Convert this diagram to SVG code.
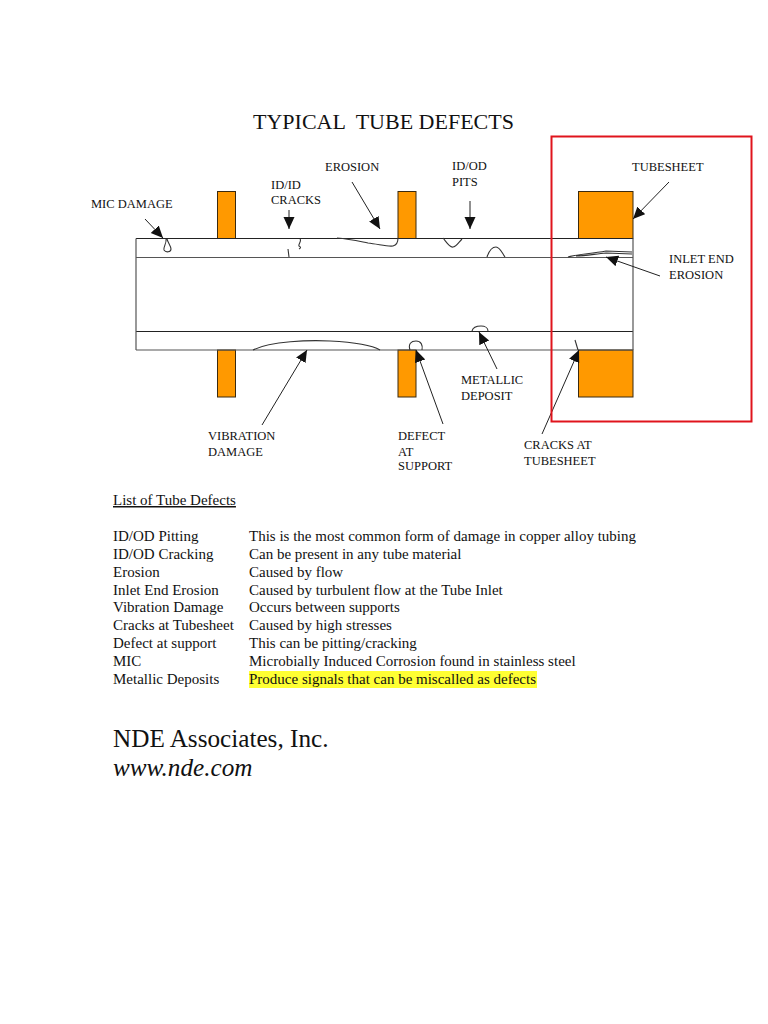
<svg xmlns="http://www.w3.org/2000/svg" width="768" height="1024" viewBox="0 0 768 1024">
<style>
text{font-family:"Liberation Serif","Times New Roman",serif;fill:#111}
.l{font-size:12.5px}
.b{font-size:15px}
.s{fill:#f90;stroke:#3a2a10;stroke-width:1}
.t{fill:none;stroke:#222;stroke-width:1}
.g{fill:none;stroke:#555;stroke-width:1.2}
.d{fill:none;stroke:#333;stroke-width:1.1}
.a{stroke:#222;stroke-width:1;marker-end:url(#ah)}
</style>
<defs><marker id="ah" markerUnits="userSpaceOnUse" markerWidth="13" markerHeight="12" refX="12" refY="5.500" orient="auto"><path d="M0 0L12 5.500L0 11z" fill="#111"/></marker></defs>
<rect width="768" height="1024" fill="#fff"/>
<text x="253" y="129" font-size="22" xml:space="preserve">TYPICAL  TUBE DEFECTS</text>
<g id="supports">
<rect class="s" x="217.500" y="191.500" width="18" height="47"/>
<rect class="s" x="398" y="191.500" width="18" height="47"/>
<rect class="s" x="578.500" y="191.500" width="54.500" height="47"/>
<rect class="s" x="217.500" y="350" width="18" height="47"/>
<rect class="s" x="398" y="350" width="18" height="47"/>
<rect class="s" x="578.500" y="350" width="54.500" height="47"/>
</g>
<g id="tube">
<path class="t" d="M136 238.500H633M136 331.500H633"/>
<path class="g" d="M136 238.500V350M136 257.500H633M136 350H633M633 238.500V350"/>
</g>
<g id="defects">
<path class="d" d="M166 239C167 243 163 247 164 250C166 253 171 252 171 249C171 246 168 243 167 239"/>
<path class="d" d="M300 239C302 241 298 244 299 246C301 247 301 248 299 249M288 249L289 257"/>
<path class="d" d="M337 238C350 239 358 241 368 243C378 244 388 247 393 246C397 245 398 241 398 238"/>
<path class="d" d="M443 238C447 243 450 248 453 247C456 247 459 242 462 239"/>
<path class="d" d="M487 257C489 251 492 247 496 247C500 247 502 253 505 257"/>
<path class="d" d="M568 257C578 254 590 254 606 251L632 252M576 256C585 256 595 254 606 253L632 254"/>
<path class="d" d="M253 350C270 341 310 340 330 341C350 342 370 344 380 350"/>
<path class="d" d="M410 350C408 344 411 341 416 341C421 341 423 345 422 350"/>
<path class="d" d="M472 331C473 327 478 326 481 326C485 326 488 328 488 331"/>
<path class="d" d="M575 340L578 350"/>
</g>
<g id="connectors">
<line class="a" x1="145" y1="219" x2="163" y2="238"/>
<line class="a" x1="289" y1="210" x2="289" y2="229"/>
<line class="a" x1="352" y1="182" x2="380" y2="229"/>
<line class="a" x1="470" y1="201" x2="470" y2="229"/>
<line class="a" x1="669" y1="182" x2="633" y2="219"/>
<line class="a" x1="660" y1="276" x2="606" y2="257"/>
<line class="a" x1="262" y1="425" x2="307" y2="350"/>
<line class="a" x1="443" y1="424" x2="416" y2="350"/>
<line class="a" x1="497" y1="369" x2="479" y2="332"/>
<line class="a" x1="542" y1="434" x2="579" y2="350"/>
</g>
<g id="labels">
<text class="l" x="91" y="208">MIC DAMAGE</text>
<text class="l" x="271" y="189">ID/ID</text><text class="l" x="271" y="204">CRACKS</text>
<text class="l" x="325" y="171">EROSION</text>
<text class="l" x="452" y="170">ID/OD</text><text class="l" x="452" y="186">PITS</text>
<text class="l" x="632" y="171">TUBESHEET</text>
<text class="l" x="669" y="263">INLET END</text><text class="l" x="669" y="279">EROSION</text>
<text class="l" x="461" y="384">METALLIC</text><text class="l" x="461" y="400">DEPOSIT</text>
<text class="l" x="208" y="440">VIBRATION</text><text class="l" x="208" y="456">DAMAGE</text>
<text class="l" x="398" y="440">DEFECT</text><text class="l" x="398" y="456">AT</text><text class="l" x="398" y="470">SUPPORT</text>
<text class="l" x="524" y="449">CRACKS AT</text><text class="l" x="524" y="465">TUBESHEET</text>
</g>
<rect id="highlight" x="551.500" y="136.500" width="200" height="285" fill="none" stroke="#e0141c" stroke-width="2"/>
<g id="list">
<text class="b" x="113" y="505" text-decoration="underline">List of Tube Defects</text>
<rect x="249" y="671" width="288" height="17" fill="#ff3"/>
<text class="b" x="113" y="541">ID/OD Pitting</text><text class="b" x="249" y="541">This is the most common form of damage in copper alloy tubing</text>
<text class="b" x="113" y="559">ID/OD Cracking</text><text class="b" x="249" y="559">Can be present in any tube material</text>
<text class="b" x="113" y="577">Erosion</text><text class="b" x="249" y="577">Caused by flow</text>
<text class="b" x="113" y="595">Inlet End Erosion</text><text class="b" x="249" y="595">Caused by turbulent flow at the Tube Inlet</text>
<text class="b" x="113" y="612">Vibration Damage</text><text class="b" x="249" y="612">Occurs between supports</text>
<text class="b" x="113" y="630">Cracks at Tubesheet</text><text class="b" x="249" y="630">Caused by high stresses</text>
<text class="b" x="113" y="648">Defect at support</text><text class="b" x="249" y="648">This can be pitting/cracking</text>
<text class="b" x="113" y="666">MIC</text><text class="b" x="249" y="666">Microbially Induced Corrosion found in stainless steel</text>
<text class="b" x="113" y="684">Metallic Deposits</text><text class="b" x="249" y="684">Produce signals that can be miscalled as defects</text>
</g>
<g id="footer">
<text x="113" y="747" font-size="25.200">NDE Associates, Inc.</text>
<text x="113" y="776" font-size="25.200" font-style="italic">www.nde.com</text>
</g>
</svg>
